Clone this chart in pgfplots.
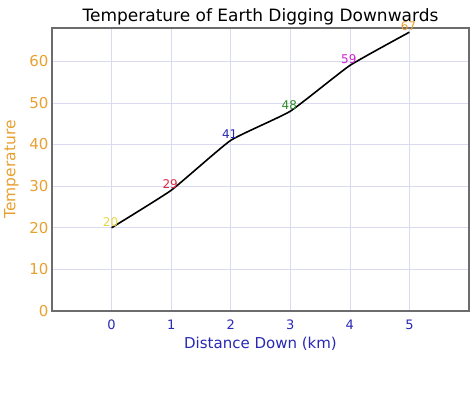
\documentclass[border=0pt]{standalone}
\usepackage{pgfplots}
\pgfplotsset{compat=1.18}
\usepackage{fontspec}
\setmainfont{DejaVu Sans}
\definecolor{ora}{RGB}{232,160,48}
\definecolor{blu}{RGB}{40,40,180}
\definecolor{gridc}{RGB}{218,218,240}
\definecolor{yel}{RGB}{232,216,64}
\definecolor{redc}{RGB}{224,40,64}
\definecolor{grn}{RGB}{46,139,46}
\definecolor{mag}{RGB}{208,32,208}
\begin{document}
\begin{tikzpicture}
\begin{axis}[
  at={(0pt,0pt)}, anchor=south west,
  scale only axis=true, width=417pt, height=283pt,
  xmin=-1, xmax=6, ymin=0, ymax=68,
  xtick={0,1,2,3,4,5}, ytick={0,10,20,30,40,50,60},
  grid=major, major grid style={gridc, line width=0.7pt},
  axis line style={gray!85!black, line width=1.3pt},
  tick style={draw=none},
  /pgf/number format/assume math mode=true,
  xticklabel style={blu, font=\fontsize{13}{15}\selectfont, yshift=-5pt},
  yticklabel style={ora, font=\fontsize{15}{17}\selectfont},
  xlabel={Distance Down (km)}, ylabel={Temperature},
  xlabel style={blu, font=\fontsize{15}{17}\selectfont, yshift=-1pt},
  ylabel style={ora, font=\fontsize{15.5}{17}\selectfont, yshift=4pt},
  title={Temperature of Earth Digging Downwards},
  title style={font=\fontsize{17}{19}\selectfont, yshift=-7pt},
  clip=false,
  nodes near coords style={anchor=south, yshift=-2pt, xshift=-1pt, font=\fontsize{12}{14}\selectfont},
]
\addplot[black, line width=1.6pt, smooth, tension=0.25, mark=none] coordinates {(0,20) (1,29) (2,41) (3,48) (4,59) (5,67)};
\addplot[draw=none, mark=none, nodes near coords, every node near coord/.append style={yel}] coordinates {(0,20)};
\addplot[draw=none, mark=none, nodes near coords, every node near coord/.append style={redc}] coordinates {(1,29)};
\addplot[draw=none, mark=none, nodes near coords, every node near coord/.append style={blu}] coordinates {(2,41)};
\addplot[draw=none, mark=none, nodes near coords, every node near coord/.append style={grn}] coordinates {(3,48)};
\addplot[draw=none, mark=none, nodes near coords, every node near coord/.append style={mag}] coordinates {(4,59)};
\addplot[draw=none, mark=none, nodes near coords, every node near coord/.append style={ora}] coordinates {(5,67)};
\end{axis}
\path[use as bounding box] (-52pt,-86pt) rectangle (422pt,311pt);
\end{tikzpicture}
\end{document}
